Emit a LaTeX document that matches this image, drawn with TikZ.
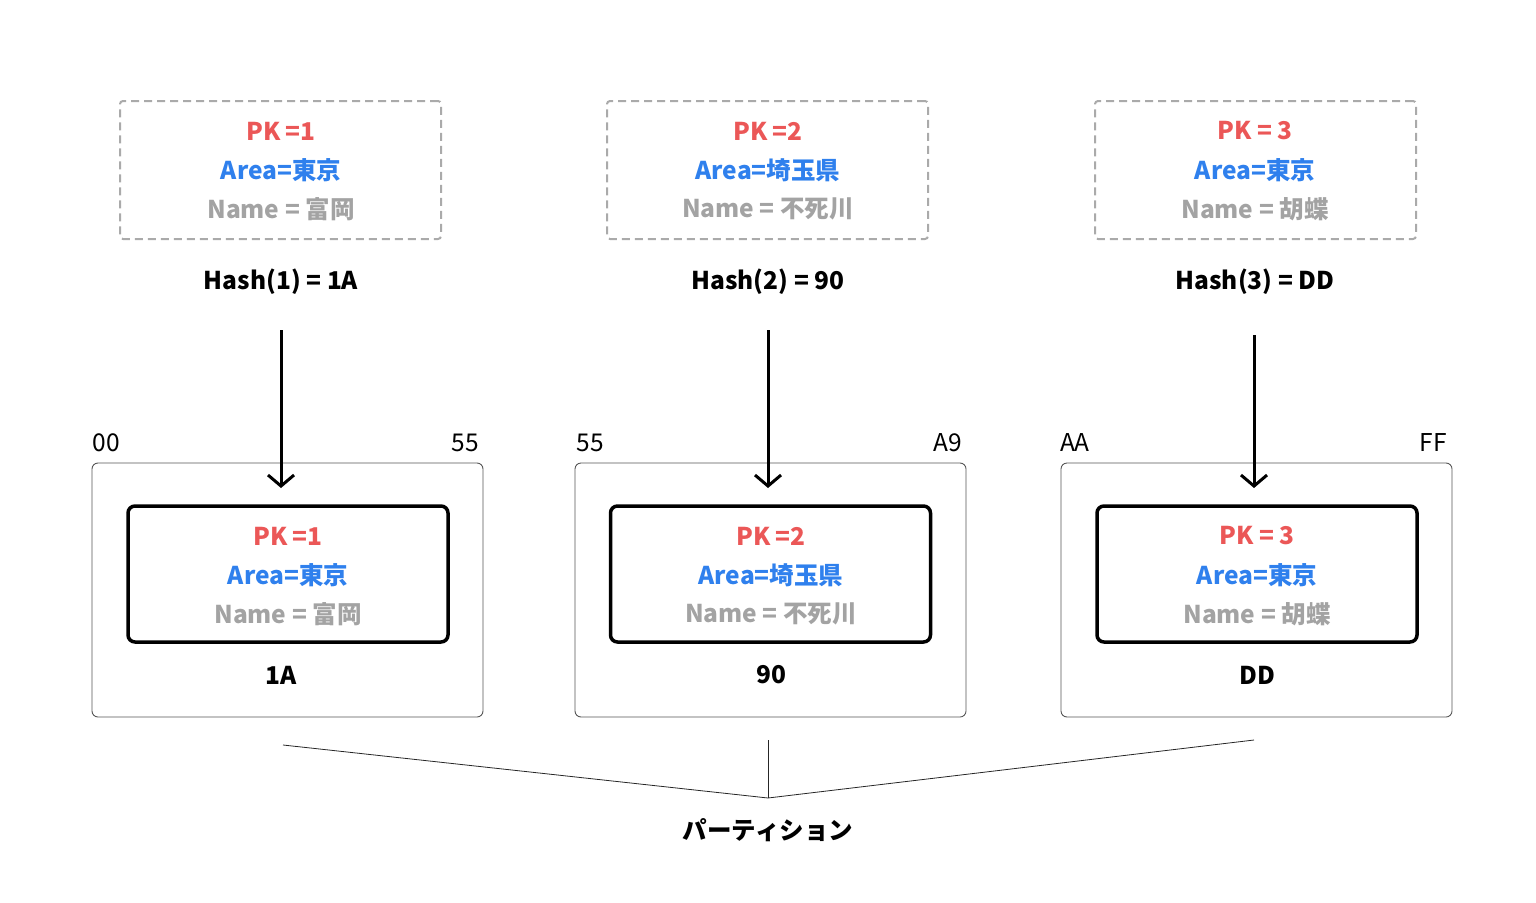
\documentclass[tikz,border=0pt]{standalone}
\usepackage{fontspec}
\setmainfont{Noto Sans CJK JP}
\usetikzlibrary{arrows.meta}
\definecolor{pkred}{HTML}{EB5757}
\definecolor{areablue}{HTML}{2F80ED}
\definecolor{namegray}{HTML}{A3A3A3}
\definecolor{dashgray}{HTML}{AAAAAA}
\definecolor{boxgray}{HTML}{555555}
\begin{document}
\begin{tikzpicture}[x=1pt,y=-1pt,
  recbox/.style={draw=dashgray,line width=2pt,dash pattern=on 8pt off 5pt,rounded corners=3pt,minimum width=321pt,minimum height=138pt,inner sep=0pt},
  partbox/.style={draw=boxgray,line width=0.9pt,rounded corners=6pt,minimum width=391pt,minimum height=254pt,inner sep=0pt},
  itembox/.style={draw=black,line width=3.5pt,rounded corners=7pt,minimum width=320pt,minimum height=136pt,inner sep=0pt},
  pk/.style={text=pkred,font=\fontsize{24.5}{27}\selectfont\bfseries},
  area/.style={text=areablue,font=\fontsize{24.5}{27}\selectfont\bfseries},
  nm/.style={text=namegray,font=\fontsize{24.5}{27}\selectfont\bfseries},
  lbl/.style={text=black,font=\fontsize{24.5}{27}\selectfont\bfseries},
  rng/.style={text=black,font=\fontsize{24.5}{27}\selectfont},
  flow/.style={line width=3pt,-{Straight Barb[length=11pt,width=26pt,line width=3pt]}},
  brace/.style={line width=0.8pt,draw=black!85}]
\useasboundingbox (0,0) rectangle (1536,902);

% record boxes
\node[recbox] (r1) at (280.5,170) {};
\node[recbox] (r2) at (767.5,170) {};
\node[recbox] (r3) at (1255.5,170) {};
\node[pk] (r1pk) at (281,131) {PK =1};
\node[area] (r1ar) at (281,170) {Area=東京};
\node[nm] (r1nm) at (281,209) {Name = 富岡};
\node[pk] (r2pk) at (768,131) {PK =2};
\node[area] (r2ar) at (768,170) {Area=埼玉県};
\node[nm] (r2nm) at (768,209) {Name = 不死川};
\node[pk] (r3pk) at (1255,131) {PK = 3};
\node[area] (r3ar) at (1255,170) {Area=東京};
\node[nm] (r3nm) at (1255,209) {Name = 胡蝶};

% hash labels
\node[lbl] (h1) at (281,282) {Hash(1) = 1A};
\node[lbl] (h2) at (768,282) {Hash(2) = 90};
\node[lbl] (h3) at (1255,282) {Hash(3) = DD};

% partition boxes
\node[partbox] (p1) at (287.5,590) {};
\node[partbox] (p2) at (770.5,590) {};
\node[partbox] (p3) at (1256.5,590) {};
\node[rng] (p1l) at (106,443) {00};
\node[rng] (p1r) at (465,443) {55};
\node[rng] (p2l) at (590,443) {55};
\node[rng] (p2r) at (948,443) {A9};
\node[rng] (p3l) at (1075,443) {AA};
\node[rng] (p3r) at (1433,443) {FF};

% item boxes
\node[itembox] (i1) at (288,574) {};
\node[itembox] (i2) at (770.5,574) {};
\node[itembox] (i3) at (1257,574) {};
\node[pk] (i1pk) at (288,536) {PK =1};
\node[area] (i1ar) at (288,575) {Area=東京};
\node[nm] (i1nm) at (288,614) {Name = 富岡};
\node[pk] (i2pk) at (771,536) {PK =2};
\node[area] (i2ar) at (771,575) {Area=埼玉県};
\node[nm] (i2nm) at (771,614) {Name = 不死川};
\node[pk] (i3pk) at (1257,536) {PK = 3};
\node[area] (i3ar) at (1257,575) {Area=東京};
\node[nm] (i3nm) at (1257,614) {Name = 胡蝶};
\node[lbl] (k1) at (281,675) {1A};
\node[lbl] (k2) at (771,675) {90};
\node[lbl] (k3) at (1257,675) {DD};

% arrows
\coordinate (a1s) at (281,330);
\coordinate (a1e) at (281,488);
\coordinate (a2s) at (768,330);
\coordinate (a2e) at (768,488);
\coordinate (a3s) at (1254,335);
\coordinate (a3e) at (1254,488);
\draw[flow] (a1s) -- (a1e);
\draw[flow] (a2s) -- (a2e);
\draw[flow] (a3s) -- (a3e);

% partition brace
\coordinate (bl) at (283,745);
\coordinate (bm) at (768,740);
\coordinate (br) at (1254,740);
\coordinate (bj) at (768,798);
\node[lbl] (part) at (768,830) {パーティション};
\draw[brace] (bl) -- (bj) -- (br);
\draw[brace] (bm) -- (bj);
\end{tikzpicture}
\end{document}
